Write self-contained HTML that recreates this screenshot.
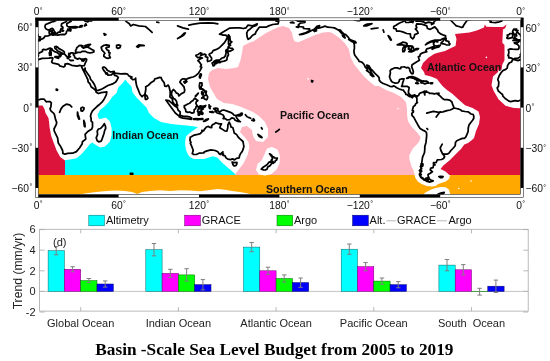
<!DOCTYPE html>
<html><head><meta charset="utf-8"><title>Basin-Scale Sea Level Budget</title>
<style>
html,body{margin:0;padding:0;background:#fff;}
#fig{position:relative;width:550px;height:361px;overflow:hidden;background:#fff;font-family:"Liberation Sans",Arial,Helvetica,sans-serif;color:#000;}
.t{position:absolute;white-space:nowrap;line-height:1;}
.tk{font-size:10.3px;color:#111;}
.oc{font-size:10.6px;font-weight:bold;color:#111;}
.lg{font-size:11px;color:#111;}
.ax{font-size:11px;color:#222;}
.ttl{font-family:"Liberation Serif","Times New Roman",serif;font-weight:bold;font-size:17.25px;color:#000;}
.dg{font-size:7px;position:relative;top:-2.6px;margin-left:0.3px;color:#000;}
</style></head><body><div id="fig">

<svg width="550" height="361" viewBox="0 0 550 361" style="position:absolute;left:0;top:0">
<defs><clipPath id="mc"><rect x="38.2" y="20.6" width="482.40000000000003" height="174.0"/></clipPath></defs>
<g clip-path="url(#mc)" shape-rendering="auto">
<polygon fill="#ffa800" points="38.2,175.0 414.6,175.0 415.3,177.7 417.8,181.5 421.6,184.0 426.7,186.0 431.8,186.6 435.6,186.0 438.2,184.0 442.0,182.8 445.8,181.5 449.0,179.0 450.3,175.0 520.6,175.0 520.6,194.6 450.3,194.6 449.0,189.8 445.8,187.3 440.7,186.9 435.6,188.0 430.5,189.8 425.5,192.4 423.0,194.6 252.0,194.6 248.0,193.5 240.0,192.0 232.0,191.0 225.0,189.8 218.0,189.0 210.0,190.0 200.0,191.3 190.0,190.5 180.0,190.2 170.0,191.0 160.0,190.3 150.0,191.0 142.0,192.0 137.5,194.0 132.0,192.0 125.0,191.0 117.0,190.4 110.0,190.7 101.0,191.5 92.0,192.5 85.0,193.5 79.0,194.6 38.2,194.6"/>
<polygon fill="#00ffff" points="65.0,175.0 65.0,160.3 70.0,159.5 76.6,158.2 81.6,154.0 86.6,148.3 90.0,144.1 92.4,142.4 95.8,145.0 100.0,147.4 105.0,146.6 110.0,141.6 111.6,135.0 111.6,128.3 110.0,121.6 105.8,117.5 102.4,118.6 99.1,119.1 97.4,115.0 100.0,110.0 104.4,106.5 108.8,102.0 112.1,97.0 116.6,93.0 118.2,87.5 123.2,82.5 125.2,79.5 127.6,82.5 131.5,86.4 132.6,92.5 136.5,97.5 142.0,103.0 146.5,107.4 149.0,113.0 154.0,118.0 161.0,122.0 171.0,124.0 181.0,125.0 191.0,126.0 198.0,127.0 194.0,130.0 189.0,133.5 186.0,136.5 185.2,141.0 185.2,145.0 186.0,150.0 188.1,154.7 190.5,157.5 193.9,159.1 204.1,159.1 212.8,156.2 217.2,157.6 223.0,163.5 228.8,168.5 233.2,172.2 235.6,174.4 235.6,175.0"/>
<polygon fill="#dc143c" points="38.2,105.6 42.5,105.6 44.5,109.0 45.5,113.0 48.5,118.0 49.2,123.0 49.5,127.0 51.2,136.0 53.9,143.2 56.6,150.4 60.2,157.0 65.0,160.5 65.0,175.0 38.2,175.0"/>
<polygon fill="#dc143c" points="421.0,68.0 423.0,63.0 428.0,58.0 434.0,54.0 437.0,53.0 445.0,51.0 451.0,48.0 455.5,46.0 456.5,39.0 455.0,34.0 462.3,33.3 469.5,32.5 476.8,30.4 484.0,27.5 484.8,24.5 486.3,26.7 494.3,27.0 503.0,27.0 506.6,24.5 505.2,28.2 503.0,29.6 502.3,42.7 504.5,44.9 504.5,60.2 502.3,64.5 501.5,70.0 498.8,69.3 498.0,72.0 493.0,76.5 491.5,85.3 493.7,91.0 498.5,99.3 505.5,105.8 514.0,108.0 520.6,108.2 520.6,175.0 449.3,175.0 445.5,171.6 440.5,169.0 443.3,165.5 450.0,160.0 455.4,154.4 461.0,149.0 464.3,144.4 468.0,143.0 472.0,140.0 474.0,138.0 476.0,131.0 479.0,124.0 480.0,117.0 478.5,111.5 472.6,108.0 465.0,105.3 458.0,99.0 452.0,93.5 447.0,90.0 443.0,86.5 440.0,83.0 437.0,79.0 431.0,76.5 425.0,75.0 424.0,72.0"/>
<polygon fill="#ffb6c1" points="235.6,175.0 235.6,173.6 239.0,169.3 243.4,163.5 247.7,154.7 249.4,147.0 248.5,142.0 245.0,137.5 240.0,132.0 242.0,127.0 247.0,126.0 252.0,130.0 253.0,136.0 256.0,141.0 263.0,142.0 268.0,137.0 268.0,129.0 265.0,122.0 259.0,116.0 253.0,112.0 247.0,109.5 240.0,106.5 232.0,104.0 224.0,103.0 217.0,99.0 214.0,94.0 210.0,87.0 208.0,79.0 209.0,73.0 212.0,70.0 218.0,68.0 226.0,69.0 234.0,68.0 238.0,67.0 240.5,60.0 242.0,53.0 243.0,46.0 248.5,43.0 254.0,41.0 260.0,37.0 266.0,33.0 273.0,29.5 279.0,27.0 283.0,26.0 289.0,28.0 292.0,32.5 293.0,38.0 294.5,41.2 298.0,42.3 303.0,40.3 307.0,38.5 315.0,35.0 323.0,32.5 329.0,32.0 332.3,33.0 339.5,38.0 345.4,43.8 349.0,49.6 350.5,57.0 354.1,64.2 359.9,71.5 364.0,76.5 370.0,82.0 375.0,86.0 379.0,86.0 386.0,90.0 394.0,93.0 401.0,97.0 406.0,102.0 407.0,109.0 407.2,116.0 408.0,121.0 411.4,126.5 417.2,132.4 420.8,137.5 418.6,142.5 412.8,148.4 409.2,155.6 409.6,160.0 411.6,167.0 413.4,170.0 414.6,175.0"/>
<polygon fill="#fff" points="265.0,153.0 267.0,148.5 272.0,147.0 277.5,149.5 280.0,156.0 279.5,163.5 276.5,169.5 271.5,174.0 265.0,175.6 259.0,174.4 256.0,170.0 257.5,164.0 262.0,160.0"/>
<circle cx="486.4" cy="57.4" r="0.8" fill="#fff"/>
<circle cx="398" cy="108.6" r="0.8" fill="#fff"/>
<circle cx="471" cy="181" r="0.8" fill="#fff"/>
<circle cx="458.8" cy="188.5" r="0.8" fill="#fff"/>
<circle cx="308" cy="78.8" r="0.9" fill="#fff"/>
<path d="M30.3 59.6L31.1 59.5L35.5 60.6L38.2 59.6L42.2 58.3L48.9 58.2L51.6 57.6L52.9 58.0L52.3 60.0L51.6 62.0L52.9 63.1L55.6 63.6L58.6 64.3L59.6 65.8L63.7 67.0L65.0 66.1L65.0 64.0L67.7 63.6L71.7 65.3L77.1 66.2L79.7 65.4L81.5 65.8L81.8 67.4L83.1 70.1L83.8 71.4L85.8 75.4L87.8 79.5L88.2 82.1L89.8 83.5L91.1 86.8L93.1 88.2L95.8 90.6L96.2 92.2L98.5 93.5L101.2 92.6L106.8 91.8L106.3 94.9L103.9 99.6L102.5 101.6L99.8 104.2L97.2 106.3L94.5 108.9L92.5 110.9L91.1 113.6L90.5 116.3L91.1 118.3L91.1 121.0L92.5 122.3L92.5 127.0L91.8 129.0L87.8 131.5L85.1 134.4L85.8 139.1L82.4 141.8L82.2 143.8L79.7 147.8L76.4 151.6L72.6 153.2L67.7 153.4L65.0 154.2L62.9 153.4L62.6 150.5L60.3 145.9L58.3 143.1L57.6 137.8L54.3 131.1L54.0 129.0L56.3 124.3L56.7 122.3L55.6 119.7L54.7 115.6L54.0 113.6L50.9 110.9L50.0 108.7L50.9 106.9L51.1 104.5L51.3 102.9L50.0 101.6L47.6 101.7L46.2 101.8L44.2 99.2L40.9 99.2L38.2 100.0L35.5 101.2L32.8 100.6L28.2 101.7L26.1 100.9L22.8 98.5L20.5 96.2L20.1 94.5L18.1 92.9L15.8 90.8L14.8 87.9L16.1 86.2L16.4 82.1L15.4 79.5L16.8 75.8L18.8 72.5L20.8 70.3L22.8 69.7L24.8 68.1L25.2 65.4L26.8 63.0L29.1 62.0L30.3 59.6M512.7 59.6L513.5 59.5L517.9 60.6L520.6 59.6L524.6 58.3L531.3 58.2L534.0 57.6L535.3 58.0L534.7 60.0L534.0 62.0L535.3 63.1L538.0 63.6L541.0 64.3L542.0 65.8L546.1 67.0L547.4 66.1L547.4 64.0L550.1 63.6L554.1 65.3L559.5 66.2L562.1 65.4L563.9 65.8L564.2 67.4L565.5 70.1L566.2 71.4L568.2 75.4L570.2 79.5L570.6 82.1L572.2 83.5L573.5 86.8L575.5 88.2L578.2 90.6L578.6 92.2L580.9 93.5L583.6 92.6L589.2 91.8L588.7 94.9L586.3 99.6L584.9 101.6L582.2 104.2L579.6 106.3L576.9 108.9L574.9 110.9L573.5 113.6L572.9 116.3L573.5 118.3L573.5 121.0L574.9 122.3L574.9 127.0L574.2 129.0L570.2 131.5L567.5 134.4L568.2 139.1L564.8 141.8L564.6 143.8L562.1 147.8L558.8 151.6L555.0 153.2L550.1 153.4L547.4 154.2L545.3 153.4L545.0 150.5L542.7 145.9L540.7 143.1L540.0 137.8L536.7 131.1L536.4 129.0L538.7 124.3L539.1 122.3L538.0 119.7L537.1 115.6L536.4 113.6L533.3 110.9L532.4 108.7L533.3 106.9L533.5 104.5L533.7 102.9L532.4 101.6L530.0 101.7L528.6 101.8L526.6 99.2L523.3 99.2L520.6 100.0L517.9 101.2L515.2 100.6L510.6 101.7L508.5 100.9L505.2 98.5L502.9 96.2L502.5 94.5L500.5 92.9L498.2 90.8L497.2 87.9L498.5 86.2L498.8 82.1L497.8 79.5L499.2 75.8L501.2 72.5L503.2 70.3L505.2 69.7L507.2 68.1L507.6 65.4L509.2 63.0L511.5 62.0L512.7 59.6M104.3 123.7L105.5 126.4L105.7 128.4L104.7 130.4L103.9 133.7L102.3 138.4L101.2 141.1L98.8 141.8L97.2 140.8L96.2 137.8L97.6 134.4L97.2 131.1L98.5 129.0L100.5 128.5L102.5 126.4L104.3 123.7M54.3 19.8L52.3 21.8L49.6 22.9L45.6 24.5L44.9 26.5L45.6 28.5L47.6 29.9L49.6 29.6L52.3 28.3L53.2 29.2L54.3 31.2L55.4 32.6L55.6 33.4L57.4 33.2L58.0 32.3L60.0 31.9L60.3 30.5L61.0 28.9L63.0 27.9L62.3 26.5L61.2 25.9L61.7 23.8L63.7 22.8L66.1 21.8L67.0 20.5L67.7 19.4L71.7 20.1L71.0 21.2L68.4 22.8L66.7 23.8L67.0 25.9L68.4 26.9L71.7 26.9L75.1 26.5L77.7 27.2L75.7 27.9L71.0 27.9L69.7 28.5L70.1 29.6L71.0 29.6L70.6 31.0L68.4 30.3L66.6 31.2L66.3 33.2L65.0 34.2L64.3 34.7L63.0 34.3L60.3 34.6L57.4 35.2L55.0 34.7L52.9 35.2L51.6 34.6L51.3 33.2L52.3 31.9L52.3 30.5L50.9 31.1L49.2 31.2L49.2 33.2L49.7 34.2L50.0 35.2L47.8 35.8L44.9 36.2L44.2 37.5L42.9 38.7L41.6 39.1L40.3 39.5L40.2 40.5L38.5 41.0L36.6 41.4L36.1 41.0L35.8 42.3L34.2 42.2L31.9 42.6L32.4 43.5L34.9 44.2L35.5 44.9L36.6 46.0L36.6 48.0L35.9 49.4L33.5 49.3L30.2 49.2L27.5 48.9L25.9 49.8L26.4 51.3L26.4 53.3L25.6 55.6L26.4 56.1L26.3 58.0L28.2 57.9L29.6 58.3L30.7 59.4L32.2 58.4L35.3 58.3L37.3 57.2L38.5 55.6L37.8 54.7L39.3 52.9L42.5 51.5L42.4 50.0L43.6 49.3L46.2 49.8L48.2 48.9L50.0 48.1L51.9 48.8L52.9 50.6L54.7 51.7L56.7 52.4L59.0 54.0L59.6 55.3L59.2 56.7L60.3 56.7L61.1 55.3L60.4 54.4L61.0 53.3L62.9 54.1L62.3 53.1L59.6 52.0L59.6 51.5L58.3 51.3L57.0 50.2L56.3 49.2L55.0 48.4L54.7 46.9L56.3 46.4L56.6 47.3L57.6 47.0L59.0 48.6L61.7 50.0L63.7 51.3L64.3 52.0L64.2 53.6L65.7 55.3L66.6 56.3L68.8 56.7L67.3 57.3L67.4 58.3L68.4 58.7L69.0 57.3L70.4 56.7L69.7 56.0L68.8 54.9L68.8 53.3L70.1 54.0L70.8 52.9L73.0 52.9L73.4 53.6L74.4 53.3L77.1 52.7L75.7 51.6L75.5 50.6L76.4 49.3L76.8 47.6L78.1 46.6L79.1 45.6L81.1 45.3L83.1 46.0L81.8 46.8L83.4 48.1L85.5 47.3L87.1 46.9L85.1 45.6L88.5 44.6L90.5 44.4L89.1 45.3L88.5 46.6L87.8 47.3L89.8 48.2L91.8 49.4L93.8 50.6L93.9 52.0L91.8 52.7L89.8 52.8L87.1 52.3L85.1 51.3L82.4 51.3L80.4 52.4L77.7 52.4L77.1 52.7L75.7 53.3L74.0 53.6L73.3 54.7L74.4 56.0L74.8 57.8L76.1 58.4L77.7 59.1L79.3 58.3L81.1 59.1L83.8 59.0L85.8 58.6L86.7 59.4L86.2 61.2L85.1 63.4L84.2 65.7L81.5 65.8M536.7 19.8L534.7 21.8L532.0 22.9L528.0 24.5L527.3 26.5L528.0 28.5L530.0 29.9L532.0 29.6L534.7 28.3L535.6 29.2L536.7 31.2L537.8 32.6L538.0 33.4L539.8 33.2L540.4 32.3L542.4 31.9L542.7 30.5L543.4 28.9L545.4 27.9L544.7 26.5L543.6 25.9L544.1 23.8L546.1 22.8L548.5 21.8L549.4 20.5L550.1 19.4L554.1 20.1L553.4 21.2L550.8 22.8L549.1 23.8L549.4 25.9L550.8 26.9L554.1 26.9L557.5 26.5L560.1 27.2L558.1 27.9L553.4 27.9L552.1 28.5L552.5 29.6L553.4 29.6L553.0 31.0L550.8 30.3L549.0 31.2L548.7 33.2L547.4 34.2L546.7 34.7L545.4 34.3L542.7 34.6L539.8 35.2L537.4 34.7L535.3 35.2L534.0 34.6L533.7 33.2L534.7 31.9L534.7 30.5L533.3 31.1L531.6 31.2L531.6 33.2L532.1 34.2L532.4 35.2L530.2 35.8L527.3 36.2L526.6 37.5L525.3 38.7L524.0 39.1L522.7 39.5L522.6 40.5L520.9 41.0L519.0 41.4L518.5 41.0L518.2 42.3L516.6 42.2L514.3 42.6L514.8 43.5L517.2 44.2L517.9 44.9L519.0 46.0L519.0 48.0L518.3 49.4L515.9 49.3L512.6 49.2L509.9 48.9L508.3 49.8L508.8 51.3L508.8 53.3L508.0 55.6L508.8 56.1L508.7 58.0L510.6 57.9L512.0 58.3L513.1 59.4L514.6 58.4L517.7 58.3L519.7 57.2L520.9 55.6L520.2 54.7L521.7 52.9L524.9 51.5L524.8 50.0L526.0 49.3L528.6 49.8L530.7 48.9L532.4 48.1L534.3 48.8L535.3 50.6L537.1 51.7L539.1 52.4L541.4 54.0L542.0 55.3L541.6 56.7L542.7 56.7L543.5 55.3L542.8 54.4L543.4 53.3L545.3 54.1L544.7 53.1L542.0 52.0L542.0 51.5L540.7 51.3L539.4 50.2L538.7 49.2L537.4 48.4L537.1 46.9L538.7 46.4L539.0 47.3L540.0 47.0L541.4 48.6L544.1 50.0L546.1 51.3L546.7 52.0L546.6 53.6L548.1 55.3L549.0 56.3L551.2 56.7L549.7 57.3L549.8 58.3L550.8 58.7L551.4 57.3L552.8 56.7L552.1 56.0L551.2 54.9L551.2 53.3L552.5 54.0L553.2 52.9L555.4 52.9L555.8 53.6L556.8 53.3L559.5 52.7L558.1 51.6L557.9 50.6L558.8 49.3L559.2 47.6L560.5 46.6L561.5 45.6L563.5 45.3L565.5 46.0L564.2 46.8L565.8 48.1L567.9 47.3L569.5 46.9L567.5 45.6L570.9 44.6L572.9 44.4L571.5 45.3L570.9 46.6L570.2 47.3L572.2 48.2L574.2 49.4L576.2 50.6L576.3 52.0L574.2 52.7L572.2 52.8L569.5 52.3L567.5 51.3L564.8 51.3L562.8 52.4L560.1 52.4L559.5 52.7L558.1 53.3L556.4 53.6L555.7 54.7L556.8 56.0L557.2 57.8L558.5 58.4L560.1 59.1L561.7 58.3L563.5 59.1L566.2 59.0L568.2 58.6L569.1 59.4L568.6 61.2L567.5 63.4L566.6 65.7L563.9 65.8M81.8 67.4L83.2 69.8L84.2 70.3L85.1 68.1L85.1 70.1L87.5 73.4L89.8 76.8L90.7 79.5L92.5 81.5L94.5 84.8L95.6 87.5L96.2 90.4L98.5 90.4L102.5 88.8L107.9 85.5L112.6 83.9L115.7 82.1L117.0 80.1L118.3 77.4L116.6 75.8L114.6 75.4L113.6 72.5L113.2 73.2L111.2 75.0L107.9 75.2L107.3 73.0L106.8 72.8L106.1 74.1L105.2 72.1L103.6 70.1L102.5 68.1L103.2 67.1L104.5 67.1L106.3 68.7L107.2 70.2L110.6 72.0L113.9 71.3L115.0 73.2L120.6 73.8L125.3 73.7L127.6 74.1L128.4 75.4L130.0 76.4L132.0 77.0L130.7 77.9L132.7 79.7L134.7 79.5L135.6 78.1L135.8 81.5L136.7 86.2L138.4 90.2L140.0 94.2L142.1 96.7L143.1 95.5L144.3 95.1L145.1 93.5L145.8 89.5L145.7 86.8L148.5 85.2L150.8 82.8L154.1 80.8L154.8 78.8L156.8 78.4L159.5 77.4L161.2 77.7L161.9 79.7L164.2 82.8L164.8 86.2L166.2 86.4L168.2 85.1L169.1 86.8L170.2 91.5L170.2 94.2L169.9 96.9L172.2 98.9L172.9 102.2L174.2 104.0L176.9 105.7L177.8 105.6L176.9 103.6L176.6 101.6L175.1 99.3L173.5 98.4L172.2 96.2L171.3 94.2L172.2 90.8L173.4 89.5L174.9 90.8L176.2 92.9L178.2 93.7L178.9 95.9L181.2 93.8L184.3 92.2L184.7 90.2L184.0 86.8L181.6 84.1L179.8 82.1L181.2 79.7L182.9 78.8L184.9 78.8L185.9 80.4L186.9 78.8L190.3 77.7L193.0 77.0L195.7 75.7L198.3 73.4L200.3 70.1L201.7 67.4L200.3 66.7L201.4 65.0L199.4 62.0L197.9 60.7L199.7 59.1L202.4 58.0L200.3 57.2L197.7 57.6L196.3 56.4L195.9 55.3L198.1 54.5L200.3 52.9L201.7 53.3L200.7 55.3L202.1 54.9L204.6 54.1L206.0 54.7L205.4 56.7L207.7 57.3L207.4 60.7L207.7 61.5L209.7 61.0L211.5 60.0L211.6 58.0L210.1 55.9L209.1 54.7L209.7 53.7L212.0 52.7L213.1 50.6L215.8 49.7L219.1 48.0L221.8 45.3L224.5 42.6L226.5 39.3L227.5 36.6L225.8 35.2L223.1 35.2L221.8 34.6L219.5 34.2L223.1 31.9L226.5 29.9L229.8 28.1L235.2 27.9L239.9 27.9L243.2 28.5L245.9 27.9L247.9 25.2L252.6 25.9L257.3 23.8L256.6 25.2L252.6 26.8L249.9 29.2L247.9 30.5L246.7 33.2L247.2 37.2L248.2 39.3L250.3 37.9L252.6 35.2L255.3 33.9L255.9 31.9L257.3 29.9L259.3 27.2L266.0 27.2L268.7 25.9L272.7 24.5L278.1 23.8L278.7 21.2L276.1 21.2L277.4 19.2L279.4 19.2M101.2 47.3L103.9 45.3L106.5 44.9L109.2 45.3L109.2 46.9L106.9 47.3L105.9 48.1L107.2 50.0L108.8 50.6L108.7 52.7L110.0 52.9L109.2 55.3L110.3 57.6L107.9 58.4L105.9 57.8L103.9 56.4L103.9 54.7L104.9 53.3L103.2 51.3L101.9 50.0L101.2 47.3M116.6 45.3L118.6 44.9L120.6 45.6L119.9 47.6L117.9 48.4L116.6 47.6L116.6 45.3M136.7 46.6L138.7 44.9L143.4 45.3L144.1 45.6L140.0 45.7L138.0 47.3L136.7 46.6M177.6 38.6L180.2 37.2L183.6 35.2L185.3 33.0L184.3 33.1L181.6 35.9L179.6 37.2L177.6 38.6M145.4 94.5L147.1 96.2L147.9 98.2L146.7 99.4L145.4 99.3L145.0 96.9L145.4 94.5M165.9 100.1L168.9 100.6L172.6 103.8L174.9 106.0L177.3 107.6L178.2 110.3L180.2 111.9L180.0 115.4L178.2 115.4L175.3 113.0L173.3 110.3L170.9 106.9L168.9 104.2L165.9 100.1M179.2 116.7L180.9 115.6L183.6 116.3L186.7 116.3L189.2 116.8L191.6 118.1L191.5 119.3L186.9 118.7L182.9 118.1L180.6 117.5L179.2 116.7M184.3 105.6L185.6 105.3L187.3 104.2L189.6 103.3L191.4 101.4L193.0 100.5L194.7 98.2L196.1 99.2L197.9 100.6L196.3 101.8L195.9 103.6L197.5 106.3L196.1 106.5L195.7 108.7L194.3 109.6L193.9 112.7L191.9 113.1L189.6 112.0L188.0 112.3L185.9 111.6L185.6 109.6L184.3 107.6L184.3 105.6M198.7 106.9L200.1 105.9L203.0 106.4L205.7 105.5L204.8 107.1L201.7 106.9L199.4 107.3L199.7 108.9L201.0 108.8L203.4 108.8L201.7 110.0L201.0 110.9L202.1 112.3L203.0 113.4L202.4 114.3L201.0 113.9L200.3 111.6L199.5 111.6L199.5 115.0L198.3 115.0L198.3 112.3L197.5 111.4L198.3 108.9L198.7 106.9M213.7 108.7L215.8 108.1L217.8 108.7L218.0 110.9L219.8 112.0L221.8 110.3L223.8 110.0L227.1 111.1L230.5 112.3L232.5 113.4L233.8 115.0L235.9 115.6L236.3 117.0L236.9 118.3L239.2 121.0L240.3 121.7L237.9 121.4L235.2 120.3L233.8 118.3L231.8 117.9L229.8 119.7L227.1 119.9L225.1 118.6L223.1 118.7L224.1 117.0L223.1 115.0L220.4 113.8L217.1 113.0L216.2 112.0L215.1 111.4L217.5 110.5L215.8 110.3L213.7 108.7M236.9 115.1L239.2 114.6L241.2 113.2L242.3 113.4L241.9 115.0L239.9 115.9L237.9 115.9L236.9 115.1M203.7 121.4L205.7 119.7L208.4 118.9L207.7 119.7L205.0 121.1L203.7 121.4M193.6 118.9L196.3 118.7L199.0 118.9L202.8 118.6L202.8 119.4L199.0 119.5L196.3 119.5L193.6 119.4L193.6 118.9M209.1 104.9L209.7 106.3L210.7 106.3L209.7 107.6L210.1 108.7L209.3 108.0L209.1 106.3L209.1 104.9M209.7 111.9L212.4 111.5L213.5 112.4L211.7 112.3L209.7 111.9M199.8 82.8L201.9 82.9L202.1 85.5L201.0 86.8L201.3 88.6L203.0 89.1L204.4 90.4L203.3 90.2L201.7 89.1L199.8 88.8L199.3 86.2L199.8 82.8M201.7 98.2L203.7 96.2L206.4 94.6L207.7 96.9L207.3 98.9L206.4 99.8L204.4 98.9L203.7 97.5L201.7 98.2M204.8 90.8L206.4 91.3L206.0 93.5L205.0 92.5L204.8 90.8M195.4 96.2L198.3 93.1L197.9 93.8L195.7 96.5L195.4 96.2M201.7 91.8L203.0 92.2L203.3 94.2L202.4 94.9L201.7 93.5L201.7 91.8M201.0 73.8L201.4 74.8L200.1 78.1L199.3 76.8L200.3 74.1L201.0 73.8M183.9 81.9L186.3 80.8L186.9 81.5L184.9 83.2L183.9 81.9M213.6 62.0L215.1 61.6L217.1 61.5L219.1 61.2L219.8 62.7L221.5 61.6L224.1 61.1L225.5 60.7L226.9 59.8L227.1 57.3L227.8 56.0L228.5 54.7L227.8 52.1L226.2 52.4L225.8 54.0L225.5 55.6L223.8 57.6L221.8 58.0L221.5 58.3L220.4 59.4L219.8 59.9L216.4 60.0L213.7 61.5L213.6 62.0M226.1 52.0L227.4 50.6L230.1 51.3L233.2 49.6L232.5 48.4L230.1 48.1L228.2 46.8L227.9 49.3L226.3 49.7L225.8 51.1L226.1 52.0M212.1 63.0L213.7 62.3L215.1 63.4L214.4 65.4L213.1 65.8L212.7 64.3L212.1 63.0M215.5 62.7L218.0 61.6L218.7 62.3L217.1 62.8L216.2 63.6L215.5 62.7M228.5 34.8L229.8 36.6L230.1 39.3L230.5 41.3L231.8 41.9L229.8 43.9L230.5 45.3L229.2 45.7L228.5 43.9L228.5 40.6L228.2 37.9L228.5 34.8M190.3 137.1L191.2 136.8L194.3 135.1L197.7 134.4L200.3 133.7L202.1 131.7L201.9 130.4L203.7 130.8L204.4 129.4L206.4 127.0L208.4 126.4L210.0 127.4L211.7 127.6L211.7 125.7L213.1 124.3L214.4 123.9L215.8 122.7L219.1 123.9L221.5 123.8L220.2 126.4L219.8 127.7L221.8 128.9L224.7 130.9L226.9 131.1L227.8 127.7L227.9 124.8L229.2 122.1L230.5 124.8L230.9 126.9L232.9 127.7L233.8 131.1L234.2 133.1L236.5 134.4L238.5 137.5L240.3 139.1L243.0 141.5L243.5 144.4L243.9 146.2L243.2 149.1L242.1 151.6L240.8 153.2L239.5 155.8L239.2 157.8L236.5 158.4L234.5 159.9L232.5 158.9L230.5 159.6L227.8 159.1L225.8 157.6L225.1 155.8L223.1 155.4L223.4 153.8L222.4 154.6L222.9 151.8L221.1 153.4L220.4 154.5L219.4 154.0L217.8 151.8L215.1 150.5L211.1 149.9L207.0 150.9L204.4 151.8L203.7 153.0L199.0 153.2L196.3 154.5L193.6 154.4L192.3 153.6L192.6 152.5L193.2 150.5L192.3 147.8L191.2 145.1L190.3 143.1L191.0 142.4L189.9 140.4L190.3 137.1M232.1 162.1L234.5 162.7L236.9 162.4L236.8 164.1L235.9 165.6L234.1 165.9L232.9 164.6L232.1 162.1M269.6 153.8L271.8 155.2L272.4 156.9L273.8 156.8L274.3 158.0L277.3 158.1L276.5 160.1L275.4 160.5L275.1 161.9L273.1 163.3L272.4 162.9L273.0 161.5L271.1 160.4L272.3 159.2L272.3 157.4L270.3 154.8L269.6 153.8M269.8 161.9L271.6 162.8L271.6 163.7L269.8 165.9L267.7 167.0L267.1 169.1L265.3 170.0L263.6 169.8L261.3 169.1L262.7 167.6L264.7 166.3L267.3 164.6L268.9 162.3L269.8 161.9M258.0 134.5L260.0 135.7L262.0 137.5L261.3 137.5L259.3 136.4L258.0 134.5M275.8 132.0L277.7 130.8L279.3 129.4M130.4 173.3L132.7 173.3L132.7 174.2L130.4 174.1L130.4 173.3M311.6 80.5L312.9 81.1L312.2 82.1L311.6 81.5L311.6 80.5M295.5 19.7L298.2 21.2L302.2 21.2L304.9 21.3L304.9 22.5L300.2 23.2L298.2 25.2L299.5 26.5L303.5 27.2L303.5 28.5L308.2 28.8L309.6 28.9L309.6 30.5L306.2 32.6L302.9 33.6L299.5 34.6L302.2 34.3L306.2 33.2L308.9 31.9L311.6 30.5L314.2 29.2L315.6 27.9L316.9 26.3L319.6 25.6L318.9 27.2L316.9 28.5L319.6 27.9L322.3 27.2L325.0 26.1L327.6 27.2L331.7 27.5L334.3 27.9L337.0 29.2L339.0 30.5L341.0 32.6L343.7 33.9L345.7 34.6L347.7 36.6L349.1 38.6L350.4 39.9L353.1 40.9L355.4 41.7L356.0 42.9L353.8 42.9L354.4 45.3L354.4 48.6L353.9 50.6L354.2 53.3L354.8 55.3L356.0 56.7L357.1 58.3L358.5 60.0L359.1 61.4L361.1 61.9L362.1 62.3L363.6 63.9L364.5 65.4L365.4 67.4L367.2 69.0L367.6 70.3L366.5 70.5L368.5 71.8L370.3 73.4L370.5 74.8L372.8 76.5L373.9 76.4L372.9 75.0L371.9 73.4L370.5 70.8L369.2 68.7L367.2 66.7L366.8 65.1L368.9 65.8L369.9 67.4L371.2 69.4L372.5 70.5L373.9 72.1L375.2 73.7L377.9 76.1L379.2 78.1L379.2 80.1L380.6 81.9L383.2 83.5L386.6 84.8L389.9 86.3L392.0 86.6L394.0 85.9L396.7 87.8L399.3 89.0L402.0 89.9L403.4 90.2L404.7 92.2L405.6 93.1L405.8 94.3L407.0 94.5L408.4 95.8L409.4 96.5L410.7 96.5L412.3 97.8L413.1 96.6L414.1 95.5L415.4 96.5L416.8 97.5L416.9 98.9L416.8 102.2L417.4 102.5L415.4 104.2L415.0 105.6L413.4 106.5L412.7 108.9L412.3 110.7L413.4 110.9L413.4 112.0L411.8 113.4L412.1 115.6L413.7 117.2L415.4 120.3L417.2 123.7L418.5 126.1L420.1 128.4L423.4 130.4L425.5 131.5L426.4 132.4L426.7 135.7L426.3 139.1L426.0 142.4L424.8 146.5L424.8 149.1L424.5 152.5L423.4 155.2L422.5 157.4L422.1 160.5L421.7 163.2L423.0 163.9L422.8 165.9L421.4 166.6L420.8 169.2L419.4 170.6L420.8 171.9L419.4 174.6L420.8 177.3L422.8 179.0L425.5 179.7L425.7 178.4L427.5 177.9L428.9 177.7L428.1 175.9L428.1 174.6L430.2 173.3L432.4 171.7L430.2 169.9L430.8 168.2L433.1 167.6L433.5 165.2L435.1 165.0L433.5 163.9L433.5 162.5L436.2 162.5L437.3 159.9L441.5 159.5L443.6 158.5L444.6 156.5L443.8 155.2L442.3 153.6L444.2 154.1L446.9 154.2L448.9 153.2L450.9 150.5L452.9 148.5L455.2 145.8L455.5 142.4L456.9 140.7L459.6 139.5L462.3 138.4L464.3 138.4L465.7 137.1L467.0 134.4L468.1 131.5L468.3 127.7L469.0 125.0L470.4 123.0L472.6 120.3L473.8 118.3L473.7 115.6L473.0 114.4L471.0 114.0L468.3 111.9L465.0 111.5L461.6 110.9L461.0 110.0L459.0 109.2L456.3 108.5L453.6 107.9L453.6 106.5L452.9 105.2L451.9 102.0L449.8 100.2L446.9 99.6L444.2 99.6L442.2 98.2L440.2 96.2L438.2 94.5L436.9 93.4L434.2 93.9L432.2 93.4L429.5 93.3L428.8 92.5L426.8 92.2L426.5 91.1L424.8 92.9L424.8 94.9L424.1 92.6L424.8 91.1L422.8 92.2L420.8 92.9L419.4 93.5L418.8 95.1L417.4 96.2L417.0 96.2L414.7 94.9L412.7 95.5L410.7 95.3L408.7 93.5L408.4 91.5L409.0 88.8L409.1 87.5L407.4 86.4L405.4 86.3L402.7 86.4L401.6 86.4L402.3 84.8L402.7 82.8L403.4 80.8L404.0 78.8L402.0 78.8L399.6 79.5L399.1 81.5L398.0 82.8L395.3 83.1L393.3 82.5L391.6 81.5L390.2 78.8L389.5 76.8L390.4 73.0L390.1 70.8L391.3 69.4L393.3 68.5L394.9 67.8L397.3 67.9L398.7 68.5L400.7 68.5L401.1 67.1L402.7 67.0L404.7 66.9L406.3 67.8L408.0 67.4L409.6 68.7L409.8 70.5L411.0 72.8L412.1 73.8L413.0 73.7L413.4 71.7L412.7 69.4L411.7 67.0L412.1 64.7L414.1 63.4L416.1 62.2L418.1 61.1L419.4 60.3L418.8 58.3L418.4 56.7L419.8 56.4L420.1 54.7L421.4 53.3L423.4 52.7L426.8 51.7L425.9 50.4L426.8 48.9L429.5 48.1L430.8 47.6L432.8 46.9L434.2 46.6L432.2 48.0L432.2 49.3L434.8 48.0L438.9 46.9L440.2 45.3L438.2 45.7L436.2 46.0L434.2 45.6L433.5 43.9L434.2 41.9L431.5 41.7L428.1 43.3L425.5 44.8L427.5 43.0L430.8 41.3L434.8 40.2L440.2 40.2L442.2 38.9L445.6 37.9L445.6 35.9L443.6 35.2L440.2 33.6L438.2 31.9L437.5 29.9L434.8 26.9L432.8 27.9L430.2 29.3L427.5 28.5L426.8 25.9L424.1 24.9L421.4 24.1L416.8 23.8L416.1 25.9L416.8 27.9L415.4 28.9L417.4 31.2L418.1 33.2L414.7 34.6L414.1 37.2L412.7 38.9L410.7 37.2L410.3 33.9L406.7 33.5L402.7 31.9L399.3 31.0L396.7 31.2L396.0 28.9L393.7 28.5L393.7 26.5L396.0 25.2L399.1 23.2L402.7 21.8L404.7 19.8L406.7 18.5M437.5 18.5L435.5 20.5L433.5 22.5L433.8 23.4L431.5 24.5L432.2 23.2L428.8 22.2L425.5 23.2L423.4 21.8L420.1 21.2L416.1 21.2L416.8 19.8L421.4 19.2M404.0 19.8L406.0 22.5L408.7 22.4L411.4 21.8L412.7 22.5L413.4 21.2L408.0 19.4L404.0 19.8M397.3 44.9L400.7 43.3L402.7 42.2L405.4 42.6L407.0 43.5L407.1 45.2L404.0 45.3L402.0 44.6L399.3 45.0L397.3 44.9M402.9 51.7L404.0 51.7L405.0 50.0L405.0 48.0L406.3 46.6L407.4 46.2L408.7 46.9L409.0 48.4L408.3 49.0L410.1 49.8L411.1 49.3L411.7 47.3L413.4 47.8L412.3 46.1L408.7 45.8L407.0 46.0L404.7 46.2L403.4 47.3L402.7 49.3L402.9 51.7M408.8 51.7L411.4 51.9L414.7 50.4L413.4 50.4L410.1 51.1L408.8 51.7M413.7 49.6L417.4 49.6L418.5 48.6L416.8 48.6L413.7 49.6M388.2 35.6L389.5 36.6L391.3 39.9L390.6 40.1L389.3 37.9L388.2 35.6M363.8 25.9L366.5 25.9L368.5 25.2L371.9 23.7L370.5 23.8L367.2 24.1L364.5 25.3L363.8 25.9M354.4 20.2L357.1 20.5L359.8 20.5L361.8 19.8L359.8 18.5M441.1 43.7L443.6 43.8L446.2 44.8L449.3 45.0L450.0 43.9L448.6 42.6L448.9 41.5L445.8 40.6L446.2 38.6L444.2 39.3L442.9 41.3L441.1 43.0L441.1 43.7M434.2 40.9L437.5 41.5L437.8 41.8L434.4 41.1L434.2 40.9M348.7 39.5L351.8 40.2L353.1 40.9L355.1 42.6L353.8 42.6L351.8 41.5L348.7 39.5M342.4 35.2L344.1 35.9L345.1 37.9L343.1 36.6L342.4 35.2M313.6 30.5L316.2 29.9L316.5 30.7L314.5 31.5L313.6 30.5M290.5 22.6L294.1 22.9L292.8 22.2L290.5 22.6M296.4 26.9L298.6 26.9L298.2 27.5L296.4 26.9M406.7 78.3L409.4 76.8L412.1 76.6L414.7 77.4L417.4 78.5L419.4 79.7L421.2 80.5L420.1 80.9L416.8 80.9L417.2 80.0L415.4 79.5L414.1 78.5L411.4 77.9L409.8 77.3L408.0 78.1L406.7 78.3M420.9 82.7L422.8 80.9L424.5 81.1L426.8 81.2L428.5 82.4L428.8 83.2L426.8 83.1L424.8 83.9L423.4 83.2L420.9 82.7M415.7 83.1L417.4 82.8L418.5 83.5L417.4 83.7L415.7 83.1M430.6 82.8L432.6 82.9L432.4 83.5L430.6 83.5L430.6 82.8M437.8 93.3L438.9 93.1L438.9 94.1L437.7 94.1L437.8 93.3M428.8 178.1L426.1 179.3L424.8 180.0L426.8 181.3L429.5 182.0L432.2 181.3L433.2 180.9L430.8 180.0L429.2 178.9L428.8 178.1M438.9 176.6L440.9 176.3L443.1 176.7L442.2 177.5L440.2 177.5L438.9 176.6M436.2 196.0L438.2 194.0L441.5 192.8L444.2 192.4L443.6 193.6L440.2 194.7L438.9 196.0M449.6 18.5L450.9 20.5L452.9 22.5L454.9 24.5L456.3 25.9L459.0 26.5L461.6 27.5L463.0 26.9L463.7 25.2L465.0 23.2L467.0 20.5L471.0 19.2M488.4 19.8L491.1 21.3L490.2 22.1L493.4 22.5L495.4 22.6L499.2 21.8L501.2 21.2L502.2 20.5L501.8 19.2M30.6 40.5L33.5 40.2L35.5 39.8L38.2 39.5L40.1 39.0L39.5 38.5L40.5 37.0L38.6 36.6L38.2 35.8L37.8 34.6L36.2 33.6L35.5 32.6L34.2 32.6L35.5 30.5L33.5 30.3L32.8 30.4L34.2 29.1L31.5 29.1L30.8 30.1L30.2 31.6L30.8 32.8L31.5 33.9L31.8 34.3L33.5 34.0L34.2 35.2L34.2 36.0L32.2 36.2L32.6 36.8L32.6 37.7L31.2 38.2L32.8 38.5L34.2 38.7L32.6 39.0L30.6 40.5M513.0 40.5L515.9 40.2L517.9 39.8L520.6 39.5L522.5 39.0L521.9 38.5L522.9 37.0L521.0 36.6L520.6 35.8L520.2 34.6L518.6 33.6L517.9 32.6L516.6 32.6L517.9 30.5L515.9 30.3L515.2 30.4L516.6 29.1L513.9 29.1L513.2 30.1L512.6 31.6L513.2 32.8L513.9 33.9L514.2 34.3L515.9 34.0L516.6 35.2L516.6 36.0L514.6 36.2L515.0 36.8L515.0 37.7L513.6 38.2L515.2 38.5L516.6 38.7L515.0 39.0L513.0 40.5M512.2 37.7L512.6 35.9L513.1 34.6L512.2 33.6L509.9 33.6L509.2 34.6L507.2 35.0L507.9 36.2L506.8 37.9L507.9 38.6L509.9 38.2L512.2 37.7M55.0 56.7L59.0 56.4L58.6 58.3L55.0 57.2L55.0 56.7M49.3 52.7L51.2 52.7L51.1 55.1L49.6 55.3L49.3 52.7M49.9 50.5L50.9 50.0L50.9 52.0L50.0 52.0L49.9 50.5M69.8 60.0L73.3 60.4L71.0 60.7L69.8 60.0M81.8 60.7L84.4 59.9L83.4 61.1L81.8 60.7M80.8 108.3L82.4 107.2L84.0 107.9L83.8 109.6L82.4 111.1L81.1 110.8L80.8 108.3M77.5 112.2L78.0 114.3L79.5 119.0L78.8 119.0L77.5 115.6L77.5 112.2M83.8 120.5L84.8 123.0L85.1 126.8L84.4 126.4L84.0 123.7L83.8 120.5M56.3 89.1L57.6 89.5L57.4 90.4L56.3 90.2L56.3 89.1M59.6 112.3L61.0 108.9L63.0 106.3L66.3 104.2L69.7 104.9L71.7 106.9M82.4 18.5L85.1 21.2L87.8 21.8L89.1 20.8L91.8 20.9L92.5 19.8L93.1 18.5M126.0 21.4L129.3 23.8L130.7 25.9L133.3 24.5L138.7 25.9L145.4 26.5L149.4 29.9L152.1 32.3M156.8 22.1L158.8 22.5M188.9 25.2L193.6 24.1L200.3 23.2L208.4 22.9L213.7 23.2L217.8 23.8M177.6 25.9L182.9 27.9L188.3 29.2M103.9 33.6L105.9 34.6L104.5 35.2M452.9 108.7L450.2 110.0L446.9 110.7L442.9 111.9L438.9 112.3L433.5 111.4L429.5 112.3L426.8 113.2M440.2 111.9L438.2 114.3L436.2 117.0M442.3 153.2L440.9 150.5L440.2 147.8L442.2 144.2M245.4 114.7L247.1 116.8M248.6 117.4L250.6 118.3M251.9 120.1L253.9 121.0M253.4 118.7L254.5 120.3M261.4 127.7L262.2 129.0M371.2 28.9L374.5 28.3L377.9 28.0M383.2 29.9L383.9 32.2M338.4 29.9L340.4 30.1L341.7 31.9L343.1 33.2L341.7 33.5L340.0 31.5L338.4 29.9M349.1 39.8L351.8 41.1L354.4 42.2M426.9 128.5L427.7 129.3M421.2 163.7L422.1 165.8L420.9 165.6L421.2 163.7M420.4 166.6L421.7 168.6L420.4 169.9L421.7 171.2L420.1 173.0L421.2 174.6L420.1 175.9L421.7 177.5L423.4 178.6L424.1 180.0M419.7 173.3L420.6 174.3L419.8 175.4M424.1 179.4L426.1 180.6L428.1 181.6L430.2 182.1M426.1 178.9L427.5 179.4L426.5 180.0L428.4 180.2M52.9 33.0L55.0 32.6L54.7 33.9L52.9 33.6L52.9 33.0M51.3 33.2L52.5 33.2L52.3 33.9L51.5 33.8L51.3 33.2M62.6 30.0L63.5 30.7L62.7 31.2M60.3 32.2L61.0 30.8M67.7 29.2L69.0 29.1L68.4 29.7L67.7 29.2M79.1 27.2L80.4 25.9L82.2 25.6L81.8 26.8L79.1 27.2M84.4 25.9L85.8 23.8L86.4 25.2L84.4 25.9M84.8 46.0L85.5 46.9M55.6 20.8L53.6 21.6" fill="none" stroke="#000" stroke-width="1.75" stroke-linejoin="round" stroke-linecap="round"/>
</g>
<rect x="35.45" y="17.85" width="487.90000000000003" height="179.5" fill="none" stroke="#000" stroke-width="0.5"/>
<rect x="38.2" y="20.6" width="482.40000000000003" height="174.0" fill="none" stroke="#000" stroke-width="0.5"/>
<rect x="35.5" y="17.9" width="83.2" height="2.75" fill="#000"/>
<rect x="38.2" y="194.6" width="80.4" height="2.75" fill="#000"/>
<rect x="199.0" y="17.9" width="80.4" height="2.75" fill="#000"/>
<rect x="199.0" y="194.6" width="80.4" height="2.75" fill="#000"/>
<rect x="359.8" y="17.9" width="80.4" height="2.75" fill="#000"/>
<rect x="359.8" y="194.6" width="80.4" height="2.75" fill="#000"/>
<rect x="35.5" y="17.9" width="2.75" height="9.3" fill="#000"/>
<rect x="520.6" y="17.9" width="2.75" height="9.3" fill="#000"/>
<rect x="35.5" y="67.4" width="2.75" height="40.2" fill="#000"/>
<rect x="520.6" y="67.4" width="2.75" height="40.2" fill="#000"/>
<rect x="35.5" y="147.8" width="2.75" height="40.2" fill="#000"/>
<rect x="520.6" y="147.8" width="2.75" height="40.2" fill="#000"/>
</svg>
<div class="t tk" style="left:38.2px;top:7.4px;transform:translateX(-50%);">0<span class="dg">&#176;</span></div>
<div class="t tk" style="left:38.2px;top:200.5px;transform:translateX(-50%);">0<span class="dg">&#176;</span></div>
<div class="t tk" style="left:118.6px;top:7.4px;transform:translateX(-50%);">60<span class="dg">&#176;</span></div>
<div class="t tk" style="left:118.6px;top:200.5px;transform:translateX(-50%);">60<span class="dg">&#176;</span></div>
<div class="t tk" style="left:199.0px;top:7.4px;transform:translateX(-50%);">120<span class="dg">&#176;</span></div>
<div class="t tk" style="left:199.0px;top:200.5px;transform:translateX(-50%);">120<span class="dg">&#176;</span></div>
<div class="t tk" style="left:279.4px;top:7.4px;transform:translateX(-50%);">180<span class="dg">&#176;</span></div>
<div class="t tk" style="left:279.4px;top:200.5px;transform:translateX(-50%);">180<span class="dg">&#176;</span></div>
<div class="t tk" style="left:359.8px;top:7.4px;transform:translateX(-50%);">&#8722;120<span class="dg">&#176;</span></div>
<div class="t tk" style="left:359.8px;top:200.5px;transform:translateX(-50%);">&#8722;120<span class="dg">&#176;</span></div>
<div class="t tk" style="left:440.2px;top:7.4px;transform:translateX(-50%);">&#8722;60<span class="dg">&#176;</span></div>
<div class="t tk" style="left:440.2px;top:200.5px;transform:translateX(-50%);">&#8722;60<span class="dg">&#176;</span></div>
<div class="t tk" style="left:520.6px;top:7.4px;transform:translateX(-50%);">0<span class="dg">&#176;</span></div>
<div class="t tk" style="left:520.6px;top:200.5px;transform:translateX(-50%);">0<span class="dg">&#176;</span></div>
<div class="t tk" style="left:32.2px;top:23.2px;transform:translateX(-100%);">60<span class="dg">&#176;</span></div>
<div class="t tk" style="left:525.4px;top:23.5px;">60<span class="dg">&#176;</span></div>
<div class="t tk" style="left:32.2px;top:63.4px;transform:translateX(-100%);">30<span class="dg">&#176;</span></div>
<div class="t tk" style="left:525.4px;top:63.7px;">30<span class="dg">&#176;</span></div>
<div class="t tk" style="left:32.2px;top:103.6px;transform:translateX(-100%);">0<span class="dg">&#176;</span></div>
<div class="t tk" style="left:525.4px;top:103.9px;">0<span class="dg">&#176;</span></div>
<div class="t tk" style="left:32.2px;top:143.8px;transform:translateX(-100%);">&#8722;30<span class="dg">&#176;</span></div>
<div class="t tk" style="left:525.4px;top:144.1px;">&#8722;30<span class="dg">&#176;</span></div>
<div class="t tk" style="left:32.2px;top:184.0px;transform:translateX(-100%);">&#8722;60<span class="dg">&#176;</span></div>
<div class="t tk" style="left:525.4px;top:184.3px;">&#8722;60<span class="dg">&#176;</span></div>
<div class="t oc" style="left:112.3px;top:129.6px;">Indian Ocean</div>
<div class="t oc" style="left:280.0px;top:109.8px;">Pacific Ocean</div>
<div class="t oc" style="left:427.0px;top:62.4px;">Atlantic Ocean</div>
<div class="t oc" style="left:266.0px;top:183.9px;">Southern Ocean</div>
<svg width="550" height="361" viewBox="0 0 550 361" style="position:absolute;left:0;top:0">
<rect x="39.6" y="229.3" width="488.6" height="81.80000000000001" fill="#fff" stroke="#a8a8a8" stroke-width="0.8"/>
<path d="M80.7 311.1v-4M80.7 229.3v4" stroke="#a8a8a8" stroke-width="0.8"/>
<path d="M178.4 311.1v-4M178.4 229.3v4" stroke="#a8a8a8" stroke-width="0.8"/>
<path d="M276.1 311.1v-4M276.1 229.3v4" stroke="#a8a8a8" stroke-width="0.8"/>
<path d="M373.8 311.1v-4M373.8 229.3v4" stroke="#a8a8a8" stroke-width="0.8"/>
<path d="M471.5 311.1v-4M471.5 229.3v4" stroke="#a8a8a8" stroke-width="0.8"/>
<path d="M39.6 312.0h5M528.2 312.0h-5" stroke="#a8a8a8" stroke-width="0.8"/>
<path d="M39.6 291.4h5M528.2 291.4h-5" stroke="#a8a8a8" stroke-width="0.8"/>
<path d="M39.6 270.8h5M528.2 270.8h-5" stroke="#a8a8a8" stroke-width="0.8"/>
<path d="M39.6 250.2h5M528.2 250.2h-5" stroke="#a8a8a8" stroke-width="0.8"/>
<path d="M39.6 229.6h5M528.2 229.6h-5" stroke="#a8a8a8" stroke-width="0.8"/>
<path d="M39.6 291.4H528.2" stroke="#b5b5b5" stroke-width="0.8"/>
<rect x="48.1" y="250.7" width="16.3" height="40.7" fill="#00ffff" stroke="#066" stroke-width="0.5"/>
<rect x="64.4" y="269.3" width="16.3" height="22.1" fill="#ff00ff" stroke="#606" stroke-width="0.5"/>
<rect x="80.7" y="280.6" width="16.3" height="10.8" fill="#00ff00" stroke="#060" stroke-width="0.5"/>
<rect x="97.0" y="284.0" width="16.3" height="7.4" fill="#0000ff" stroke="#006" stroke-width="0.5"/>
<path d="M56.2 246.6V254.8M54.0 246.6h4.4M54.0 254.8h4.4" stroke="#7f7f7f" stroke-width="1" fill="none"/>
<path d="M72.6 266.7V271.8M70.4 266.7h4.4M70.4 271.8h4.4" stroke="#7f7f7f" stroke-width="1" fill="none"/>
<path d="M88.9 278.5V282.6M86.7 278.5h4.4M86.7 282.6h4.4" stroke="#7f7f7f" stroke-width="1" fill="none"/>
<path d="M105.2 280.9V287.1M103.0 280.9h4.4M103.0 287.1h4.4" stroke="#7f7f7f" stroke-width="1" fill="none"/>
<rect x="145.8" y="249.7" width="16.3" height="41.7" fill="#00ffff" stroke="#066" stroke-width="0.5"/>
<rect x="162.1" y="273.4" width="16.3" height="18.0" fill="#ff00ff" stroke="#606" stroke-width="0.5"/>
<rect x="178.4" y="274.9" width="16.3" height="16.5" fill="#00ff00" stroke="#060" stroke-width="0.5"/>
<rect x="194.7" y="284.7" width="16.3" height="6.7" fill="#0000ff" stroke="#006" stroke-width="0.5"/>
<path d="M154.0 243.5V255.9M151.8 243.5h4.4M151.8 255.9h4.4" stroke="#7f7f7f" stroke-width="1" fill="none"/>
<path d="M170.3 269.3V277.5M168.1 269.3h4.4M168.1 277.5h4.4" stroke="#7f7f7f" stroke-width="1" fill="none"/>
<path d="M186.6 268.7V281.1M184.4 268.7h4.4M184.4 281.1h4.4" stroke="#7f7f7f" stroke-width="1" fill="none"/>
<path d="M202.9 279.6V289.9M200.7 279.6h4.4M200.7 289.9h4.4" stroke="#7f7f7f" stroke-width="1" fill="none"/>
<rect x="243.5" y="247.1" width="16.3" height="44.3" fill="#00ffff" stroke="#066" stroke-width="0.5"/>
<rect x="259.8" y="270.8" width="16.3" height="20.6" fill="#ff00ff" stroke="#606" stroke-width="0.5"/>
<rect x="276.1" y="278.5" width="16.3" height="12.9" fill="#00ff00" stroke="#060" stroke-width="0.5"/>
<rect x="292.4" y="282.6" width="16.3" height="8.8" fill="#0000ff" stroke="#006" stroke-width="0.5"/>
<path d="M251.7 242.5V251.7M249.5 242.5h4.4M249.5 251.7h4.4" stroke="#7f7f7f" stroke-width="1" fill="none"/>
<path d="M267.9 267.2V274.4M265.8 267.2h4.4M265.8 274.4h4.4" stroke="#7f7f7f" stroke-width="1" fill="none"/>
<path d="M284.2 274.9V282.1M282.1 274.9h4.4M282.1 282.1h4.4" stroke="#7f7f7f" stroke-width="1" fill="none"/>
<path d="M300.6 278.0V287.3M298.4 278.0h4.4M298.4 287.3h4.4" stroke="#7f7f7f" stroke-width="1" fill="none"/>
<rect x="341.2" y="249.2" width="16.3" height="42.2" fill="#00ffff" stroke="#066" stroke-width="0.5"/>
<rect x="357.5" y="266.7" width="16.3" height="24.7" fill="#ff00ff" stroke="#606" stroke-width="0.5"/>
<rect x="373.8" y="281.1" width="16.3" height="10.3" fill="#00ff00" stroke="#060" stroke-width="0.5"/>
<rect x="390.1" y="284.7" width="16.3" height="6.7" fill="#0000ff" stroke="#006" stroke-width="0.5"/>
<path d="M349.3 244.0V254.3M347.1 244.0h4.4M347.1 254.3h4.4" stroke="#7f7f7f" stroke-width="1" fill="none"/>
<path d="M365.6 262.6V270.8M363.4 262.6h4.4M363.4 270.8h4.4" stroke="#7f7f7f" stroke-width="1" fill="none"/>
<path d="M381.9 278.0V284.2M379.8 278.0h4.4M379.8 284.2h4.4" stroke="#7f7f7f" stroke-width="1" fill="none"/>
<path d="M398.2 281.6V287.8M396.1 281.6h4.4M396.1 287.8h4.4" stroke="#7f7f7f" stroke-width="1" fill="none"/>
<rect x="438.9" y="265.1" width="16.3" height="26.3" fill="#00ffff" stroke="#066" stroke-width="0.5"/>
<rect x="455.2" y="269.8" width="16.3" height="21.6" fill="#ff00ff" stroke="#606" stroke-width="0.5"/>
<rect x="471.5" y="291.4" width="16.3" height="0.3" fill="#00ff00" stroke="#060" stroke-width="0.5"/>
<rect x="487.8" y="286.2" width="16.3" height="5.2" fill="#0000ff" stroke="#006" stroke-width="0.5"/>
<path d="M447.0 259.5V270.8M444.8 259.5h4.4M444.8 270.8h4.4" stroke="#7f7f7f" stroke-width="1" fill="none"/>
<path d="M463.3 264.6V274.9M461.1 264.6h4.4M461.1 274.9h4.4" stroke="#7f7f7f" stroke-width="1" fill="none"/>
<path d="M479.6 288.3V295.1M477.4 288.3h4.4M477.4 295.1h4.4" stroke="#7f7f7f" stroke-width="1" fill="none"/>
<path d="M495.9 280.1V292.4M493.7 280.1h4.4M493.7 292.4h4.4" stroke="#7f7f7f" stroke-width="1" fill="none"/>
<rect x="88.8" y="215.2" width="15.7" height="10.6" fill="#00ffff" stroke="#066" stroke-width="0.5"/>
<rect x="184.7" y="215.2" width="15.7" height="10.6" fill="#ff00ff" stroke="#606" stroke-width="0.5"/>
<rect x="277" y="215.2" width="15.7" height="10.6" fill="#00ff00" stroke="#060" stroke-width="0.5"/>
<rect x="352.6" y="215.2" width="15.7" height="10.6" fill="#0000ff" stroke="#006" stroke-width="0.5"/>
<path d="M386.5 220.8H396M437 220.8H447" stroke="#999" stroke-width="0.7"/>
</svg>
<div class="t lg" style="left:106.0px;top:215.0px;">Altimetry</div>
<div class="t lg" style="left:201.7px;top:215.0px;">GRACE</div>
<div class="t lg" style="left:294.0px;top:215.0px;">Argo</div>
<div class="t lg" style="left:369.6px;top:215.0px;">Alt.</div>
<div class="t lg" style="left:397.0px;top:215.0px;">GRACE</div>
<div class="t lg" style="left:448.4px;top:215.0px;">Argo</div>
<div class="t ax" style="left:35.5px;top:306.8px;transform:translateX(-100%);">-2</div>
<div class="t ax" style="left:35.5px;top:286.2px;transform:translateX(-100%);">0</div>
<div class="t ax" style="left:35.5px;top:265.6px;transform:translateX(-100%);">2</div>
<div class="t ax" style="left:35.5px;top:245.0px;transform:translateX(-100%);">4</div>
<div class="t ax" style="left:35.5px;top:224.4px;transform:translateX(-100%);">6</div>
<div class="t ax" style="left:80.7px;top:318.0px;transform:translateX(-50%);">Global Ocean</div>
<div class="t ax" style="left:178.4px;top:318.0px;transform:translateX(-50%);">Indian Ocean</div>
<div class="t ax" style="left:276.1px;top:318.0px;transform:translateX(-50%);">Atlantic Ocean</div>
<div class="t ax" style="left:373.8px;top:318.0px;transform:translateX(-50%);">Pacific Ocean</div>
<div class="t ax" style="left:471.5px;top:318.0px;transform:translateX(-50%);"><span style="word-spacing:3px">South Ocean</span></div>
<div class="t ax" style="left:53.0px;top:236.5px;">(d)</div>
<div class="t ax" style="left:18px;top:270.8px;transform:translate(-50%,-50%) rotate(-90deg);font-size:12.2px;">Trend (mm/yr)</div>
<div class="t ttl" style="left:95.3px;top:341.2px;">Basin -Scale Sea Level Budget from 2005 to 2019</div>
</div></body></html>
